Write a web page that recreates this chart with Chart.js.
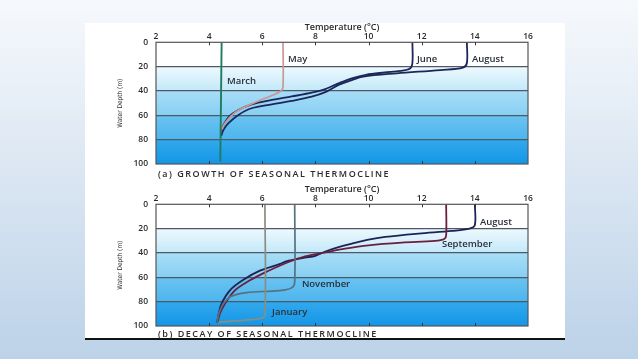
<!DOCTYPE html>
<html>
<head>
<meta charset="utf-8">
<script src="https://cdn.jsdelivr.net/npm/chart.js@4"></script>
<style>
  html, body { margin: 0; padding: 0; }
  body {
    width: 638px; height: 359px; position: relative; overflow: hidden;
    background: linear-gradient(to bottom, #f6f9fc 0%, #e2ebf5 35%, #bcd2e8 100%);
    font-family: "Open Sans", "DejaVu Sans", sans-serif;
  }
  #panel {
    position: absolute; left: 85px; top: 23px; width: 480px; height: 315px;
    background: #fff; border-bottom: 2px solid #111;
  }
  .wrap { position: absolute; left: 85px; width: 480px; }
  #wrapA { top: 23px; height: 160px; }
  #wrapB { top: 185px; height: 160px; }
  .caption {
    position: absolute; left: 158px; font-size: 9px; font-weight: 600;
    letter-spacing: 1.5px; color: #2b2b2b; white-space: nowrap; line-height: 10px;
  }
</style>
</head>
<body>
<div id="panel"></div>
<div class="wrap" id="wrapA"><canvas id="chartA"></canvas></div>
<div class="wrap" id="wrapB"><canvas id="chartB"></canvas></div>
<div class="caption" style="top:169px">(a) GROWTH OF SEASONAL THERMOCLINE</div>
<div class="caption" style="top:329px">(b) DECAY OF SEASONAL THERMOCLINE</div>
<script>
// temperature (°C) ticks along the top, water depth (m) down the side
const tempTicks = [2, 4, 6, 8, 10, 12, 14, 16];
const depthTicks = [0, 20, 40, 60, 80, 100];

// (a) growth of seasonal thermocline: [temperature, depth]
const marchA = [[4.47, 0], [4.42, 98]];
const mayA = [[6.78, 0], [6.78, 37], [6.7, 40], [6.41, 43.3], [5.79, 48.8], [5.16, 55.1],
  [4.8, 61], [4.58, 67], [4.47, 72]];
const juneA = [[11.65, 0], [11.65, 17], [11.56, 21.5], [11.2, 23.5], [10.6, 24.8], [9.9, 26.7],
  [9.37, 29.6], [8.87, 33.7], [8.37, 38.4], [7.9, 41.2], [7.11, 44.5], [6.36, 47.4], [5.6, 51],
  [5.1, 55.6], [4.75, 61], [4.55, 67.5], [4.46, 73]];
const augustA = [[13.7, 0], [13.7, 17], [13.55, 20.8], [12.7, 22.8], [11.06, 25.5], [9.8, 28.2],
  [9.37, 31], [8.87, 35], [8.37, 41], [7.86, 44.7], [7.11, 48.2], [6.36, 51], [5.6, 54.2],
  [5.1, 59.7], [4.72, 66.6], [4.54, 72], [4.45, 77]];

// (b) decay of seasonal thermocline
const augustB = [[14, 0], [14, 17], [13.8, 20], [13.14, 21.9], [11.88, 24.1], [10.63, 26.8],
  [10, 29], [9.37, 32.3], [8.9, 35], [8.4, 38.6], [8.0, 42.3], [7.6, 43.8], [6.9, 46.8],
  [6.67, 49], [5.91, 54.5], [5.29, 62], [4.79, 70.5], [4.47, 81.5], [4.35, 91], [4.3, 97]];
const septemberB = [[12.92, 0], [12.92, 25.5], [12.85, 28.5], [12.5, 30.1], [11.25, 31.5],
  [10, 33.7], [9.12, 36.4], [8.37, 39.5], [7.61, 42.8], [6.92, 48], [6.2, 55], [5.54, 62.4],
  [4.97, 70.7], [4.6, 81.6], [4.4, 90], [4.32, 97]];
const novemberB = [[7.22, 0], [7.22, 64], [7.12, 68.5], [6.8, 70.5], [6.41, 71.3], [5.41, 72.5],
  [4.79, 76], [4.5, 83], [4.35, 91], [4.3, 97]];
const januaryB = [[6.1, 0], [6.1, 91], [5.95, 93.8], [5.5, 95], [4.35, 96.8]];

// month names written next to the curves, anchored at [temperature, depth]
const labelsA = [["May", 6.97, 13.7], ["June", 11.82, 13.7], ["August", 13.89, 13.7], ["March", 4.67, 31.8]];
const labelsB = [["August", 14.19, 14.5], ["September", 12.76, 32.6], ["November", 7.49, 65.5], ["January", 6.37, 88.5]];

const FONT = "'Open Sans', 'DejaVu Sans', sans-serif";
const toXY = arr => arr.map(p => ({ x: p[0], y: p[1] }));

function line(data, color, width) {
  return {
    data: toXY(data), borderColor: color, borderWidth: width || 1.7,
    showLine: true, pointRadius: 0, tension: 0.35, fill: false
  };
}

// water bands, white on top and deepening blue below 20 m
const bands = [[20, 40, '#eef9fe', '#c2e8f9'], [40, 60, '#a8ddf7', '#87cff3'],
  [60, 80, '#6bc3f1', '#4cb5ee'], [80, 100, '#33a9ec', '#1396e7']];

const frame = {
  id: 'frame',
  beforeDraw(chart) {
    const { ctx, chartArea: a, scales: { y } } = chart;
    ctx.save();
    ctx.fillStyle = '#fff';
    ctx.fillRect(a.left, a.top, a.width, a.height);
    bands.forEach(b => {
      const y0 = y.getPixelForValue(b[0]), y1 = y.getPixelForValue(b[1]);
      const g = ctx.createLinearGradient(0, y0, 0, y1);
      g.addColorStop(0, b[2]);
      g.addColorStop(1, b[3]);
      ctx.fillStyle = g;
      ctx.fillRect(a.left, y0, a.width, y1 - y0);
    });
    ctx.restore();
  },
  afterDraw(chart) {
    const { ctx, chartArea: a, scales: { x } } = chart;
    ctx.save();
    ctx.strokeStyle = '#555';
    ctx.lineWidth = 1.2;
    ctx.strokeRect(a.left, a.top, a.width, a.height);
    ctx.strokeStyle = '#333';
    ctx.lineWidth = 1;
    tempTicks.slice(1, -1).forEach(t => {
      const px = Math.round(x.getPixelForValue(t)) + 0.5;
      ctx.beginPath();
      ctx.moveTo(px, a.top); ctx.lineTo(px, a.top + 3);
      ctx.moveTo(px, a.bottom); ctx.lineTo(px, a.bottom - 3);
      ctx.stroke();
    });
    ctx.fillStyle = '#2a2f3a';
    ctx.font = '600 9.5px ' + FONT;
    ctx.textBaseline = 'middle';
    chart.options.plugins.frame.labels.forEach(l => {
      ctx.fillText(l[0], x.getPixelForValue(l[1]), chart.scales.y.getPixelForValue(l[2]));
    });
    ctx.restore();
  }
};

function makeChart(id, datasets, labels) {
  return new Chart(document.getElementById(id), {
    type: 'scatter',
    data: { datasets },
    plugins: [frame],
    options: {
      responsive: true,
      maintainAspectRatio: false,
      animation: false,
      layout: { padding: { left: 27, right: 37, top: 0, bottom: 19 } },
      plugins: { legend: { display: false }, tooltip: { enabled: false }, frame: { labels } },
      scales: {
        x: {
          type: 'linear', position: 'top', min: 2, max: 16,
          afterBuildTicks: s => { s.ticks = tempTicks.map(v => ({ value: v })); },
          afterFit: s => { s.height = 19.3; },
          grid: { display: false, drawTicks: false },
          border: { display: false },
          ticks: { color: '#2b2b2b', font: { family: FONT, size: 8.5, weight: '600', lineHeight: 1 }, padding: 1.4 },
          title: {
            display: true, text: 'Temperature (°C)', color: '#2b2b2b',
            font: { family: FONT, size: 9, weight: '600', lineHeight: 0.9 }, padding: { top: 0, bottom: 0 }
          }
        },
        y: {
          type: 'linear', reverse: true, min: 0, max: 100,
          afterBuildTicks: s => { s.ticks = depthTicks.map(v => ({ value: v })); },
          afterFit: s => { s.width = 44; },
          grid: {
            drawTicks: false, lineWidth: 1.2,
            color: c => (c.tick && (c.tick.value === 0 || c.tick.value === 100)) ? 'rgba(0,0,0,0)' : '#4c5a66'
          },
          border: { display: false },
          ticks: { color: '#2b2b2b', font: { family: FONT, size: 8.5, weight: '600' }, padding: 8 },
          title: {
            display: true, text: 'Water Depth (m)', color: '#2b2b2b',
            font: { family: "'DejaVu Sans Condensed', 'Liberation Sans Narrow', sans-serif", size: 6.5 },
            padding: { top: 4, bottom: 0 }
          }
        }
      }
    }
  });
}

makeChart('chartA', [
  line(marchA, '#1f7d5e', 1.9),
  line(mayA, '#c99795', 1.7),
  line(juneA, '#1b2758', 1.8),
  line(augustA, '#1b2758', 1.8)
], labelsA);

makeChart('chartB', [
  line(januaryB, '#8b8d82', 1.7),
  line(novemberB, '#57717f', 1.7),
  line(septemberB, '#6b1e3e', 1.8),
  line(augustB, '#1c2456', 1.8)
], labelsB);
</script>
</body>
</html>
